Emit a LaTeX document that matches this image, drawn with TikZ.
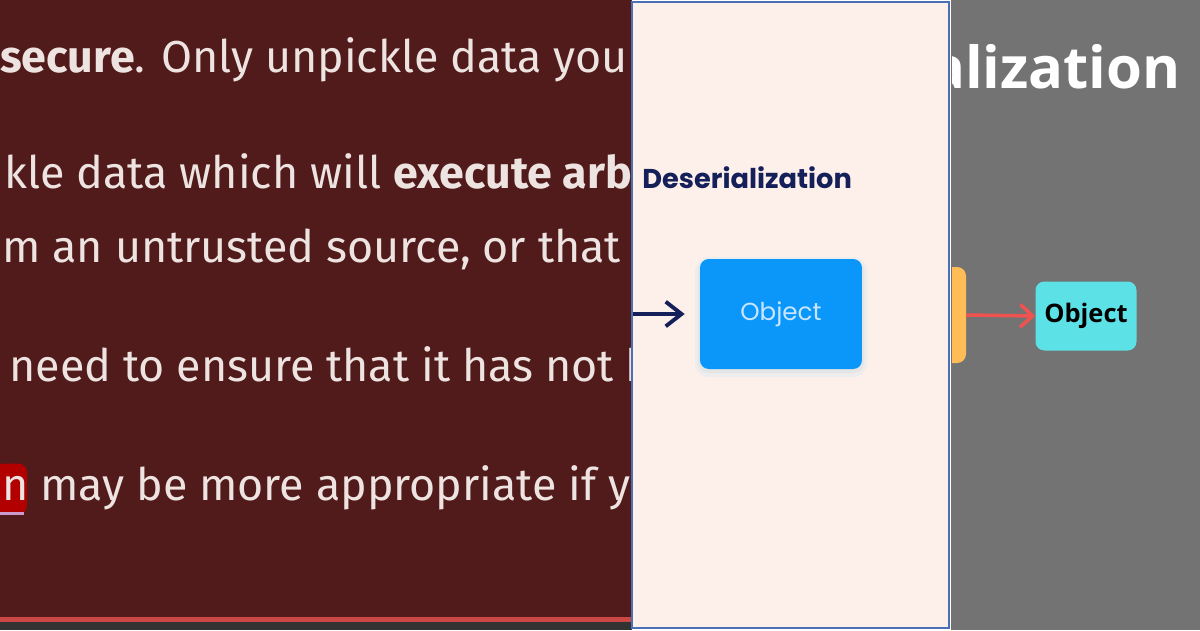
\documentclass[tikz,border=0pt]{standalone}
\usepackage{fontspec}
\setmainfont{Fira Sans}
\newfontfamily\popfont{Poppins}
\newfontfamily\opfont{Open Sans}
\usetikzlibrary{arrows.meta}

\definecolor{maroon}{HTML}{521B1B}
\definecolor{doctext}{HTML}{EDE3E0}
\definecolor{cream}{HTML}{FDF0EA}
\definecolor{frameblue}{HTML}{4A6FB5}
\definecolor{slate}{HTML}{737373}
\definecolor{navy}{HTML}{15205A}
\definecolor{objblue}{HTML}{0B96FA}
\definecolor{objtext}{HTML}{C8E6FF}
\definecolor{serorange}{HTML}{FFBC57}
\definecolor{arrowred}{HTML}{EF5350}
\definecolor{objcyan}{HTML}{5CE1E6}

\tikzset{
  docline/.style={anchor=base west, inner sep=0pt, text=doctext,
    font=\fontsize{25.5}{30}\selectfont},
  objbox/.style={rounded corners=5pt, inner sep=0pt}
}

\begin{document}
\begin{tikzpicture}[x=0.02cm, y=-0.02cm]
      \useasboundingbox (0,0) rectangle (1200,630);

      % left: docs screenshot
      \fill[maroon] (0,0) rectangle (632,630);
      \fill[arrowred!85!black] (0,617) rectangle (632,622);
      \fill[black!80] (0,622) rectangle (632,630);
      \begin{scope}
      \clip (0,0) rectangle (632,617);
      \node (hl) at (11,489) [objbox, fill=red!70!black, minimum width=0.64cm,
        minimum height=1.02cm] {};
      \fill[violet!40] (0,512) rectangle (24,515);
      \node (l1) at (0,72) [docline] {\textbf{secure}. Only unpickle data you};
      \node (l2) at (4,188) [docline] {kle data which will \textbf{execute arb}};
      \node (l3) at (2,262) [docline] {m an untrusted source, or that};
      \node (l4) at (9,381) [docline] {need to ensure that it has not b};
      \node (l5) at (2,500) [docline] {n may be more appropriate if y};
      \end{scope}

      % middle: deserialization card
      \fill[cream] (632,2) rectangle (949,628);
      \draw[frameblue, line width=1pt] (632,2) rectangle (949,628);
      \node (title) at (642,178) [anchor=west, inner sep=0pt, text=navy,
        font=\popfont\bfseries\fontsize{15.5}{19}\selectfont] {Deserialization};
      \fill[black!7, rounded corners=8pt] (695,257) rectangle (867,377);
      \fill[black!10, rounded corners=6pt] (698,260) rectangle (864,373);
      \node (obj) at (781,314) [objbox, fill=objblue, minimum width=3.24cm,
        minimum height=2.2cm, text=objtext,
        font=\popfont\fontsize{14}{17}\selectfont] {Object};
      \coordinate (in) at (633,314);
      \draw[navy, line width=2.2pt, -{Straight Barb[length=9pt, width=14pt, line width=2.2pt]}]
        (in) to ([xshift=-0.3cm]obj.west);

      % right: serialization slide
      \fill[slate] (951,0) rectangle (1200,630);
      \begin{scope}
      \clip (952,0) rectangle (1200,630);
      \node (head) at (1181,88) [anchor=base east, inner sep=0pt, text=white,
        font=\opfont\bfseries\fontsize{33}{40}\selectfont] {alization};
      \node (ser) at (926,315) [objbox, fill=serorange, minimum width=1.6cm,
        minimum height=1.92cm] {};
      \end{scope}
      \node (robj) at (1086,316) [objbox, fill=objcyan, minimum width=2.02cm,
        minimum height=1.38cm, font=\opfont\bfseries\fontsize{14.5}{17}\selectfont] {Object};
      \draw[arrowred, line width=2pt, -{Straight Barb[length=7pt, width=13pt, line width=2pt]}]
        (ser.east) to (robj.west);
\end{tikzpicture}
\end{document}
